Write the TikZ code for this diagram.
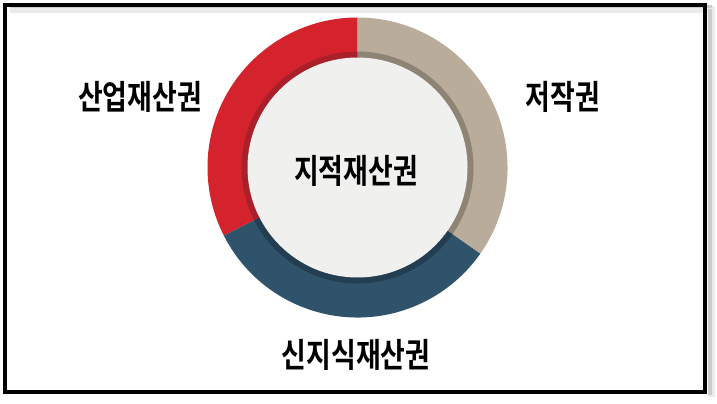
\documentclass[tikz,border=0pt]{standalone}
\usepackage{fontspec}
\newfontfamily\krfont{Noto Sans CJK KR Bold}
\definecolor{segred}{HTML}{D5232E}
\definecolor{segredd}{HTML}{A9202A}
\definecolor{segbeige}{HTML}{B9AC9B}
\definecolor{segbeiged}{HTML}{8E8476}
\definecolor{segblue}{HTML}{2E536B}
\definecolor{segblued}{HTML}{223E50}
\definecolor{innerfill}{HTML}{F0F0EE}
\newcommand{\krlabel}[1]{\scalebox{1}[1.25]{\krfont\fontsize{27}{30}\selectfont #1}}
\tikzset{
  lbl/.style={text=black, inner sep=0pt},
}
\begin{document}
\begin{tikzpicture}[x=1bp,y=1bp]
\useasboundingbox (0,0) rectangle (717,403);
\fill[white] (0,0) rectangle (717,403);
% frame shadow
\fill[black!8] (708,6) rectangle (715,390);
\fill[black!8] (10,390) rectangle (715,397);
\fill[black!20] (708,8) rectangle (712,394);
\fill[black!20] (10,395) rectangle (712,398);
% frame
\draw[line width=4bp] (5,11) rectangle (705,398);
% donut
\coordinate (c) at (357.5,235.5);
\fill[segred] (c) -- ++(90:150) arc[start angle=90,end angle=207,radius=150] -- cycle;
\fill[segblue] (c) -- ++(207:150) arc[start angle=207,end angle=325,radius=150] -- cycle;
\fill[segbeige] (c) -- ++(325:150) arc[start angle=325,end angle=450,radius=150] -- cycle;
\fill[segredd] (c) -- ++(90:116) arc[start angle=90,end angle=207,radius=116] -- cycle;
\fill[segblued] (c) -- ++(207:116) arc[start angle=207,end angle=325,radius=116] -- cycle;
\fill[segbeiged] (c) -- ++(325:116) arc[start angle=325,end angle=450,radius=116] -- cycle;
\fill[innerfill] (c) circle[radius=110];
% labels
\node[lbl] (center) at (356,232) {\krlabel{지적재산권}};
\node[lbl] (ip) at (140,306) {\krlabel{산업재산권}};
\node[lbl] (cr) at (563,306) {\krlabel{저작권}};
\node[lbl] (nk) at (356,48) {\krlabel{신지식재산권}};
\end{tikzpicture}
\end{document}
